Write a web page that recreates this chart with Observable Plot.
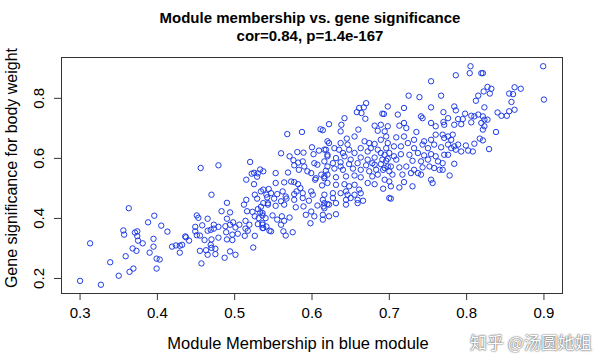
<!DOCTYPE html>
<html><head><meta charset="utf-8">
<script src="https://cdn.jsdelivr.net/npm/d3@7"></script>
<script src="https://cdn.jsdelivr.net/npm/@observablehq/plot@0.6"></script>
<style>
body{margin:0;background:#fff;font-family:"Liberation Sans",Arial,sans-serif;}
#wrap{position:relative;width:600px;height:364px;overflow:hidden;background:#fff}
.t{position:absolute;white-space:nowrap;color:#000;line-height:1}
</style></head><body><div id="wrap"></div>
<script>
const title = "Module membership vs. gene significance";
const subtitle = "cor=0.84, p=1.4e-167";
const xLabel = "Module Membership in blue module";
const yLabel = "Gene significance for body weight";
const watermark = "知乎 @汤圆她姐";
const xTicks = [0.3, 0.4, 0.5, 0.6, 0.7, 0.8, 0.9];
const yTicks = [0.2, 0.4, 0.6, 0.8];

const moduleMembership = [
0.363,0.396,0.388,0.405,0.413,0.356,0.357,0.371,0.374,0.374,0.375,0.381,0.313,0.395,0.395,0.39,0.368,0.373,0.359,0.339,0.399,0.403,0.399,0.369,0.364,0.35,0.3,0.327,0.419,0.424,0.429,0.432,0.429,0.436,0.437,0.441,
0.456,0.479,0.52,0.47,0.515,0.522,0.525,0.529,0.533,0.53,0.525,0.534,0.544,0.541,0.526,0.515,0.512,0.529,0.543,0.49,0.483,0.494,0.516,0.523,0.53,0.534,0.533,0.536,0.526,0.531,0.451,0.453,0.465,0.49,0.494,0.498,0.506,0.514,0.519,0.53,0.537,0.541,0.545,0.536,0.449,0.458,0.449,0.455,0.465,0.469,0.473,0.473,0.479,0.488,0.501,0.489,0.497,0.504,0.514,0.517,0.513,0.526,0.451,0.461,0.47,0.479,0.49,0.497,0.469,0.47,0.475,0.463,0.455,0.524,0.465,0.475,0.494,0.501,0.487,0.457,
0.553,0.569,0.599,0.605,0.612,0.616,0.62,0.613,0.604,0.553,0.564,0.573,0.577,0.582,0.585,0.537,0.547,0.555,0.562,0.566,0.577,0.58,0.588,0.599,0.601,0.542,0.551,0.56,0.567,0.577,0.588,0.596,0.614,0.62,0.607,0.537,0.543,0.553,0.564,0.579,0.589,0.599,0.592,0.603,0.614,0.614,0.536,0.54,0.536,0.549,0.555,0.561,0.564,0.571,0.56,0.536,0.547,0.563,0.575,0.566,0.598,
0.568,0.587,0.611,0.614,0.622,0.56,0.571,0.581,0.589,0.6,0.602,0.609,0.618,0.622,0.62,0.576,0.582,0.588,0.59,0.577,0.603,0.607,0.616,0.62,0.583,0.594,0.537,
0.627,0.637,0.648,0.659,0.67,0.678,0.689,0.698,0.618,0.629,0.64,0.653,0.663,0.674,0.683,0.692,0.685,0.678,0.672,0.681,0.694,0.7,0.631,0.644,0.655,0.663,0.616,0.62,0.631,0.642,0.648,0.644,0.655,0.661,0.637,0.646,0.655,0.663,0.627,0.616,0.627,0.616,0.615,0.622,0.644,0.65,0.659,0.666,0.659,0.644,0.631,0.622,0.631,0.7,0.616,
0.67,0.667,0.661,0.658,0.664,0.669,0.691,0.642,0.638,0.637,0.66,0.681,0.689,0.685,0.694,0.698,0.655,0.645,0.646,0.637,0.668,0.674,0.681,0.689,0.696,0.698,0.62,0.616,0.629,0.635,0.64,0.648,0.655,0.663,0.672,0.676,0.685,0.689,0.696,0.7,0.62,0.631,0.642,0.65,0.663,0.672,0.681,0.691,0.698,0.637,0.681,
0.694,0.706,0.715,0.726,0.737,0.745,0.754,0.76,0.771,0.776,0.696,0.709,0.73,0.741,0.75,0.763,0.694,0.702,0.713,0.722,0.732,0.737,0.743,0.752,0.758,0.765,0.704,0.717,0.728,0.741,0.778,0.7,0.754,0.756,0.719,0.713,0.702,0.73,0.692,0.702,
0.754,0.725,0.739,0.767,0.698,0.719,0.711,0.754,0.741,0.743,0.77,0.693,0.719,0.713,0.722,0.754,0.735,0.76,0.77,0.776,0.709,0.719,0.732,0.745,0.754,0.76,0.771,0.706,0.715,0.724,0.732,0.743,0.75,0.758,0.767,0.776,
0.771,0.784,0.793,0.806,0.819,0.823,0.821,0.838,0.769,0.776,0.782,0.78,0.817,0.821,0.81,0.799,0.789,0.784,0.78,0.786,0.793,0.802,0.808,0.829,0.769,0.784,0.769,
0.805,0.804,0.819,0.821,0.786,0.827,0.832,0.822,0.83,0.815,0.812,0.855,0.784,0.786,0.823,0.84,0.845,0.852,0.855,0.798,0.806,0.81,0.815,0.821,0.823,0.827,0.789,0.795,
0.899,0.862,0.87,0.86,0.858,0.862,0.9
];
const geneSignificance = [
0.434,0.409,0.387,0.376,0.356,0.36,0.346,0.353,0.357,0.341,0.326,0.317,0.317,0.332,0.306,0.286,0.3,0.292,0.274,0.254,0.266,0.263,0.233,0.233,0.222,0.209,0.192,0.179,0.306,0.31,0.309,0.312,0.286,0.34,0.337,0.326,
0.568,0.577,0.588,0.479,0.529,0.549,0.552,0.539,0.563,0.55,0.514,0.49,0.498,0.479,0.479,0.462,0.446,0.466,0.451,0.452,0.424,0.42,0.424,0.422,0.431,0.439,0.42,0.41,0.407,0.401,0.41,0.402,0.399,0.399,0.379,0.387,0.379,0.392,0.379,0.381,0.368,0.373,0.359,0.379,0.372,0.377,0.357,0.343,0.359,0.362,0.379,0.366,0.372,0.374,0.37,0.354,0.346,0.349,0.366,0.359,0.342,0.342,0.344,0.328,0.33,0.336,0.33,0.328,0.312,0.302,0.299,0.294,0.292,0.303,0.279,0.281,0.29,0.279,0.269,0.25,
0.551,0.553,0.551,0.534,0.546,0.534,0.546,0.51,0.529,0.518,0.52,0.523,0.521,0.514,0.501,0.496,0.484,0.481,0.49,0.473,0.481,0.49,0.484,0.49,0.479,0.47,0.466,0.457,0.466,0.462,0.468,0.459,0.462,0.448,0.443,0.451,0.446,0.442,0.446,0.437,0.44,0.423,0.412,0.407,0.412,0.396,0.418,0.401,0.384,0.41,0.396,0.407,0.392,0.403,0.379,0.368,0.357,0.357,0.354,0.343,0.384,
0.681,0.688,0.697,0.694,0.714,0.617,0.607,0.621,0.619,0.637,0.614,0.626,0.629,0.651,0.612,0.594,0.586,0.59,0.573,0.577,0.584,0.579,0.59,0.573,0.562,0.557,0.557,
0.584,0.587,0.581,0.584,0.577,0.584,0.581,0.573,0.559,0.566,0.562,0.566,0.562,0.557,0.562,0.562,0.546,0.54,0.518,0.514,0.529,0.557,0.537,0.54,0.543,0.537,0.54,0.518,0.512,0.514,0.507,0.49,0.512,0.496,0.484,0.479,0.479,0.484,0.484,0.479,0.468,0.451,0.44,0.446,0.446,0.468,0.462,0.459,0.451,0.462,0.451,0.407,0.414,0.468,0.434,
0.784,0.77,0.768,0.754,0.751,0.732,0.749,0.734,0.712,0.69,0.696,0.709,0.712,0.692,0.69,0.707,0.673,0.666,0.646,0.651,0.657,0.651,0.648,0.662,0.673,0.651,0.657,0.629,0.634,0.629,0.618,0.629,0.618,0.634,0.623,0.634,0.629,0.618,0.634,0.618,0.607,0.601,0.607,0.596,0.603,0.596,0.603,0.596,0.599,0.573,0.579,
0.612,0.607,0.614,0.612,0.618,0.61,0.614,0.607,0.612,0.612,0.592,0.596,0.592,0.59,0.596,0.59,0.568,0.573,0.57,0.573,0.562,0.551,0.57,0.573,0.568,0.562,0.546,0.546,0.551,0.546,0.543,0.523,0.529,0.518,0.521,0.503,0.507,0.507,0.499,0.466,
0.857,0.809,0.804,0.809,0.773,0.768,0.746,0.77,0.74,0.734,0.754,0.748,0.718,0.709,0.701,0.718,0.688,0.707,0.721,0.734,0.67,0.673,0.662,0.657,0.662,0.679,0.668,0.64,0.64,0.651,0.634,0.646,0.634,0.646,0.637,0.646,
0.712,0.712,0.714,0.72,0.718,0.707,0.696,0.688,0.679,0.673,0.679,0.662,0.666,0.66,0.649,0.643,0.646,0.64,0.634,0.629,0.623,0.626,0.623,0.631,0.584,0.582,0.562,
0.907,0.884,0.884,0.884,0.877,0.838,0.832,0.823,0.816,0.809,0.792,0.816,0.773,0.76,0.77,0.753,0.742,0.742,0.757,0.749,0.742,0.74,0.746,0.74,0.729,0.729,0.731,0.731,
0.907,0.837,0.832,0.814,0.788,0.762,0.796
];

const points = moduleMembership.map((x, i) => ({x, y: geneSignificance[i]}));
// R-style 4% axis padding
function pad(ext) { const r = ext[1] - ext[0]; return [ext[0] - 0.04 * r, ext[1] + 0.04 * r]; }
const xDomain = pad(d3.extent(moduleMembership));
const yDomain = pad(d3.extent(geneSignificance));

const wrap = document.getElementById("wrap");
const chart = Plot.plot({
  width: 600, height: 364,
  marginLeft: 61, marginRight: 38, marginTop: 57, marginBottom: 71,
  x: {domain: xDomain, label: null},
  y: {domain: yDomain, label: null},
  style: {fontFamily: "'Liberation Sans', Arial, sans-serif", fontSize: "15px", color: "#000", background: "transparent"},
  marks: [
    Plot.dot(points, {x: "x", y: "y", r: 2.7, stroke: "#1f3ce6", strokeWidth: 1, fill: "none"}),
    Plot.frame({stroke: "#333", strokeWidth: 1}),
    Plot.axisX({ticks: xTicks, tickSize: 7, tickPadding: 7, tickFormat: d => d.toFixed(1), fontSize: 15, stroke: "#333", label: null}),
    Plot.axisY({ticks: yTicks, tickSize: 7, tickFormat: () => "", stroke: "#333", label: null}),
    Plot.text(yTicks, {y: d => d, text: d => d.toFixed(1), frameAnchor: "left", dx: -22, rotate: -90, fontSize: 15, textAnchor: "middle", lineAnchor: "middle", fill: "#000"})
  ]
});
wrap.appendChild(chart);

function addText(txt, css) {
  const d = document.createElement("div");
  d.className = "t";
  d.textContent = txt;
  Object.assign(d.style, css);
  wrap.appendChild(d);
}
addText(title, {left: "310px", top: "10px", transform: "translateX(-50%)", fontWeight: "bold", fontSize: "15px"});
addText(subtitle, {left: "310px", top: "28px", transform: "translateX(-50%)", fontWeight: "bold", fontSize: "15px"});
addText(xLabel, {left: "298px", top: "335px", transform: "translateX(-50%)", fontSize: "16.5px"});
addText(yLabel, {left: "12px", top: "168px", transform: "translate(-50%,-50%) rotate(-90deg)", fontSize: "16px"});
addText(watermark, {left: "470px", top: "333px", fontSize: "17px", color: "#fff", fontFamily: "'Noto Sans CJK SC', sans-serif", textShadow: "0 0 2px #555, 0 0 1px #555"});
</script>
</body></html>
